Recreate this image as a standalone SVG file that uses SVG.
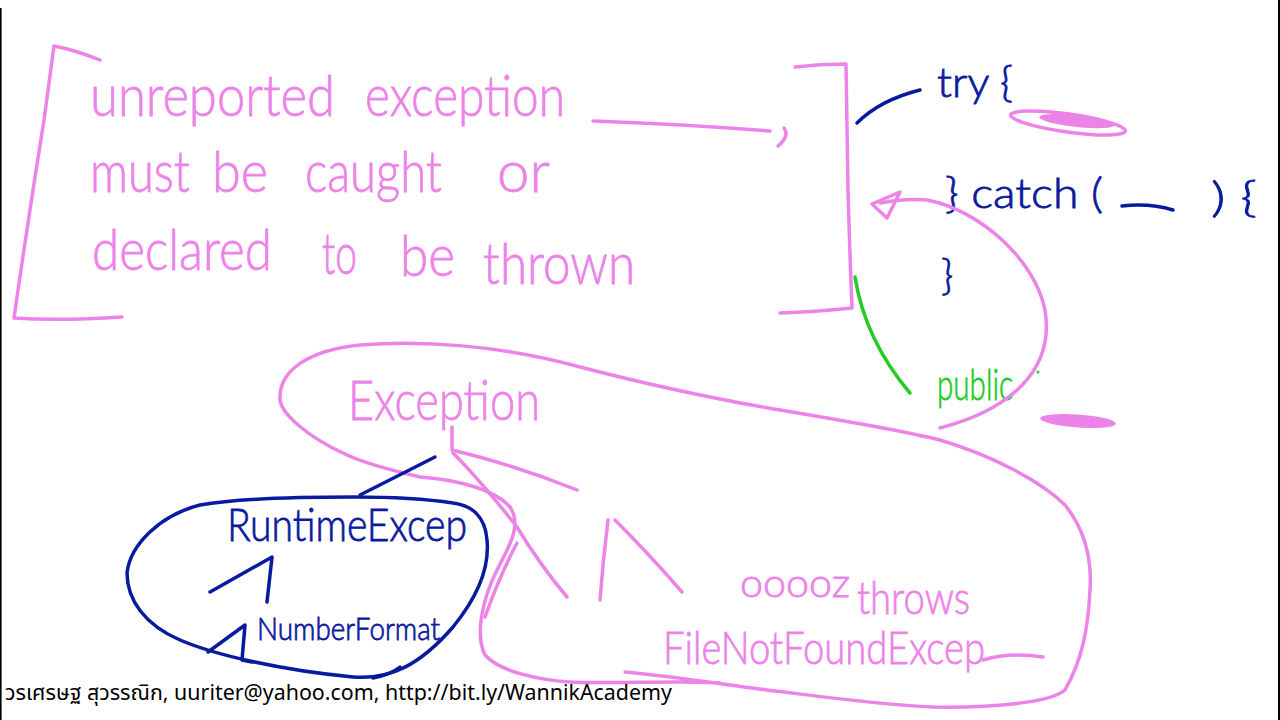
<svg xmlns="http://www.w3.org/2000/svg" width="1280" height="720" viewBox="0 0 1280 720">
<style>
.pk{fill:none;stroke:#EC84E8;stroke-width:3.5;stroke-linecap:round;stroke-linejoin:round}
.bl{fill:none;stroke:#0A1A9E;stroke-width:3.5;stroke-linecap:round;stroke-linejoin:round}
.gr{fill:none;stroke:#22CC22;stroke-width:3.5;stroke-linecap:round;stroke-linejoin:round}
.hw{font-family:Lato,"Liberation Sans","DejaVu Sans",sans-serif;font-weight:300}
.tp{fill:#EC84E8;stroke:#EC84E8;stroke-width:0.8}
.tb{fill:#0A1A9E;stroke:#0A1A9E;stroke-width:0.8}
.tg{fill:#22CC22;stroke:#22CC22;stroke-width:0.8}
.ft{font-family:"Noto Sans Thai",Tahoma,"DejaVu Sans","Liberation Sans",sans-serif;font-size:21px;fill:#000}
</style>
<rect x="0" y="0" width="1280" height="720" fill="#ffffff"/>
<line x1="0.8" y1="8" x2="0.8" y2="720" stroke="#000" stroke-width="1.6"/>
<line x1="1279" y1="0" x2="1279" y2="720" stroke="#000" stroke-width="2"/>

<g id="error-message">
<path class="pk" d="M100,60 Q75,50 54,46 L44,120 Q28,220 14,318 Q60,321 122,317"/>
<g class="hw tp" font-size="58">
<text x="90" y="116" textLength="245" lengthAdjust="spacingAndGlyphs">unreported</text>
<text x="365" y="116" textLength="200" lengthAdjust="spacingAndGlyphs">exception</text>
<text x="90" y="192" textLength="100" lengthAdjust="spacingAndGlyphs">must</text>
<text x="212" y="192" textLength="56" lengthAdjust="spacingAndGlyphs">be</text>
<text x="305" y="192" textLength="137" lengthAdjust="spacingAndGlyphs">caught</text>
<text x="497" y="192" textLength="53" lengthAdjust="spacingAndGlyphs">or</text>
<text x="92" y="270" textLength="180" lengthAdjust="spacingAndGlyphs">declared</text>
<text x="322" y="274" textLength="35" lengthAdjust="spacingAndGlyphs">to</text>
<text x="400" y="276" textLength="55" lengthAdjust="spacingAndGlyphs">be</text>
<text x="483" y="284" textLength="152" lengthAdjust="spacingAndGlyphs">thrown</text>
</g>
<path class="pk" d="M593,121 Q680,124 770,131"/>
<path class="pk" d="M784,128 Q790,136 778,146"/>
<path class="pk" d="M795,67 Q820,64 846,64 L848,190 Q850,260 852,308 Q815,312 780,313"/>
</g>

<g id="try-catch">
<path class="bl" d="M857,123 Q880,100 920,90"/>
<g class="hw tb" font-size="42">
<text x="937" y="97" textLength="76" lengthAdjust="spacingAndGlyphs">try {</text>
<text x="945" y="208" textLength="158" lengthAdjust="spacingAndGlyphs">} catch (</text>
<text x="1211" y="212" textLength="46" lengthAdjust="spacingAndGlyphs">) {</text>
<text x="941" y="290">}</text>
</g>
<path class="bl" d="M1122,206 Q1150,203 1173,210"/>
</g>

<g id="smudges">
<ellipse class="pk" cx="1068" cy="123" rx="58" ry="9" transform="rotate(8 1068 123)"/>
<ellipse cx="1077" cy="121" rx="38" ry="6" fill="#EC84E8" transform="rotate(6 1077 121)"/>
<ellipse cx="1078" cy="421" rx="38" ry="6.5" fill="#EC84E8" transform="rotate(4 1078 421)"/>
</g>

<g id="public-note">
<path class="gr" d="M855,277 Q865,340 910,393"/>
<text class="hw tg" x="937" y="400" font-size="44" textLength="76" lengthAdjust="spacingAndGlyphs">public</text>
<circle cx="1038" cy="372" r="1.5" fill="#22CC22"/>
</g>

<g id="exception-region">
<path class="pk" d="M720,683 C690,680 600,684 570,682 C540,680 500,672 485,655 C475,635 482,600 497,570 C510,545 522,525 510,507 C495,490 460,480 420,477 C390,470 360,462 343,453 C310,438 282,415 280,400 C278,370 310,350 360,345 C420,340 500,345 580,367 C650,385 720,400 780,410 C840,420 900,430 940,440 C990,455 1040,480 1065,505 C1085,530 1092,560 1090,590 C1088,630 1082,660 1065,690 C1050,703 990,708 933,707 C870,704 810,695 767,690 C720,684 670,676 625,672"/>
<path class="pk" d="M485,617 Q500,575 517,543"/>
<text class="hw tp" x="348" y="420" font-size="56" textLength="192" lengthAdjust="spacingAndGlyphs">Exception</text>
<text class="hw tp" x="740" y="597" font-size="40" textLength="110" lengthAdjust="spacingAndGlyphs">ooooz</text>
<text class="hw tp" x="857" y="614" font-size="46" textLength="113" lengthAdjust="spacingAndGlyphs">throws</text>
<text class="hw tp" x="663" y="664" font-size="46" textLength="322" lengthAdjust="spacingAndGlyphs">FileNotFoundExcep</text>
<path class="pk" d="M983,660 Q1010,652 1043,657"/>
</g>

<g id="runtime-region">
<path class="bl" d="M353,497 C300,497 240,498 200,505 C160,515 130,545 127,573 C127,600 145,625 180,640 C215,655 280,670 353,677 C390,680 420,665 453,627 C475,600 490,570 487,540 C485,515 470,505 453,503 C420,498 390,497 353,497 Z"/>
<text class="hw tb" x="227" y="541" font-size="46" textLength="240" lengthAdjust="spacingAndGlyphs">RuntimeExcep</text>
<text class="hw tb" x="257" y="640" font-size="32" textLength="183" lengthAdjust="spacingAndGlyphs">NumberFormat</text>
</g>

<g id="connectors">
<path class="pk" d="M880,203 Q905,198 927,200 C980,210 1035,260 1045,310 C1055,370 1010,410 940,428"/>
<path class="pk" d="M900,192 L872,204 L887,218 Z"/>
<path class="pk" d="M452,427 L452,450 Q515,465 577,490"/>
<path class="pk" d="M453,453 Q480,480 517,527 Q540,565 567,597"/>
<path class="pk" d="M600,600 Q603,560 608,520"/>
<path class="pk" d="M615,520 Q650,555 682,592"/>
<path class="bl" d="M360,495 L435,457"/>
<path class="bl" d="M210,592 L272,557 L267,602"/>
<path class="bl" d="M208,652 L245,625 L242,660 L252,662"/>
<path class="bl" d="M373,678 Q390,675 400,667"/>
</g>

<text class="ft" x="5" y="700" textLength="667" lengthAdjust="spacingAndGlyphs">วรเศรษฐ สุวรรณิก, uuriter@yahoo.com, http://bit.ly/WannikAcademy</text>
</svg>
